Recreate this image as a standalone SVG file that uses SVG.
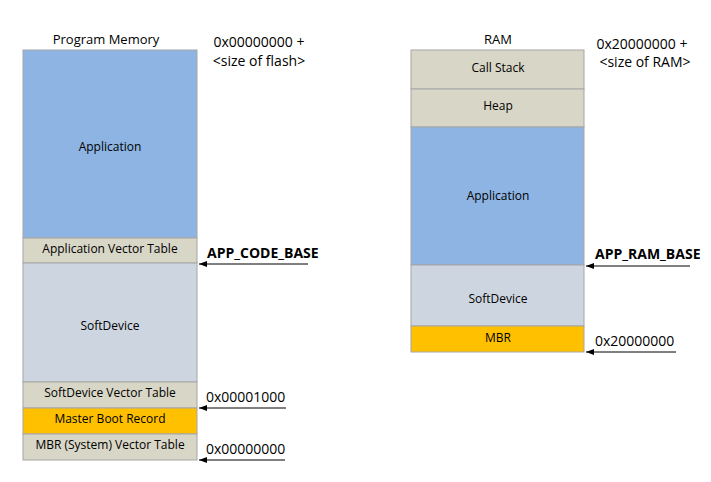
<svg xmlns="http://www.w3.org/2000/svg" width="711" height="482" viewBox="0 0 711 482">
<style>
rect{stroke:#a6a6a6;stroke-width:1}
.b{fill:#8db4e2}.g{fill:#d8d6c6}.s{fill:#cdd6e0}.o{fill:#ffc000}
text{font-family:"Open Sans","Liberation Sans",sans-serif;font-size:12px;fill:#000;text-anchor:middle}
.l{font-size:14px;text-anchor:start}
.bold{font-weight:bold}
.c line{stroke:#000;stroke-width:1;marker-end:url(#a)}
</style>
<defs><marker id="a" markerWidth="8" markerHeight="6" refX="8" refY="3" orient="auto" markerUnits="userSpaceOnUse"><path d="M0,0L8,3L0,6z" fill="#000"/></marker></defs>
<rect width="711" height="482" fill="#fff" style="stroke:none"/>
<text x="106" y="44" style="font-size:13px">Program Memory</text>
<g id="app"><rect class="b" x="23" y="50" width="174" height="188"/><text x="110" y="151">Application</text></g>
<g id="avt"><rect class="g" x="23" y="238" width="174" height="25"/><text x="110" y="253">Application Vector Table</text></g>
<g id="sd"><rect class="s" x="23" y="263" width="174" height="119"/><text x="110" y="330">SoftDevice</text></g>
<g id="sdvt"><rect class="g" x="23" y="382" width="174" height="26"/><text x="110" y="397">SoftDevice Vector Table</text></g>
<g id="mbr"><rect class="o" x="23" y="408" width="174" height="26"/><text x="110" y="423">Master Boot Record</text></g>
<g id="mbrvt"><rect class="g" x="23" y="434" width="174" height="26"/><text x="110" y="449">MBR (System) Vector Table</text></g>
<text x="498" y="44" style="font-size:13px">RAM</text>
<g id="cs"><rect class="g" x="411" y="50" width="173" height="39"/><text x="498" y="72">Call Stack</text></g>
<g id="heap"><rect class="g" x="411" y="89" width="173" height="38"/><text x="498" y="110">Heap</text></g>
<g id="rapp"><rect class="b" x="411" y="127" width="173" height="138"/><text x="498" y="200">Application</text></g>
<g id="rsd"><rect class="s" x="411" y="265" width="173" height="61"/><text x="498" y="303">SoftDevice</text></g>
<g id="rmbr"><rect class="o" x="411" y="326" width="173" height="26"/><text x="498" y="342">MBR</text></g>
<text x="259" y="47" style="font-size:14px">0x00000000 +</text>
<text x="259" y="66" style="font-size:14px">&lt;size of flash&gt;</text>
<text x="642" y="49" style="font-size:14px">0x20000000 +</text>
<text x="645" y="67" style="font-size:14px">&lt;size of RAM&gt;</text>
<text class="l bold" x="207" y="258">APP_CODE_BASE</text>
<text class="l" x="206" y="402">0x00001000</text>
<text class="l" x="206" y="454">0x00000000</text>
<text class="l bold" x="595" y="259">APP_RAM_BASE</text>
<text class="l" x="595" y="346">0x20000000</text>
<g class="c">
<line x1="308" y1="264" x2="199" y2="264"/>
<line x1="286" y1="408" x2="199" y2="408"/>
<line x1="285" y1="460" x2="199" y2="460"/>
<line x1="690" y1="266" x2="586" y2="266"/>
<line x1="676" y1="352" x2="586" y2="352"/>
</g>
</svg>
